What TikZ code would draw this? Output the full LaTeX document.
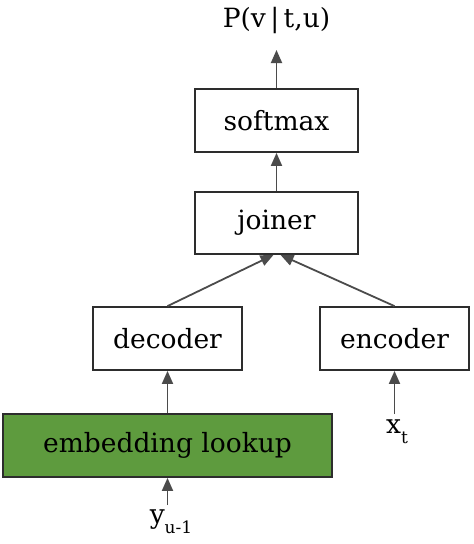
\documentclass[tikz,border=0pt]{standalone}
\usepackage{fontspec}
\setmainfont{DejaVu Serif}
\usetikzlibrary{arrows.meta}
\definecolor{embgreen}{RGB}{94,155,62}
\definecolor{arrgray}{RGB}{75,75,75}
\definecolor{boxline}{RGB}{45,45,45}
\tikzset{
  blk/.style={draw=boxline, line width=1.8pt, fill=white, minimum height=63pt, inner sep=0pt,
    font=\fontsize{26.5}{30}\selectfont},
  lbl/.style={inner sep=0pt, font=\fontsize{26.5}{30}\selectfont},
  arr/.style={draw=arrgray, line width=1.8pt, -{Triangle[length=13pt,width=11pt]}},
}
\newcommand{\mysub}[1]{\raisebox{-0.38em}{\fontsize{17}{17}\selectfont #1}}
\begin{document}
\begin{tikzpicture}[x=1pt,y=-1pt]
\useasboundingbox (0,0) rectangle (474,544);
\node[blk, minimum width=163pt] (softmax) at (276.5,120.5) {softmax};
\node[blk, minimum width=163pt, minimum height=62pt] (joiner) at (276.5,223) {joiner};
\node[blk, minimum width=149pt] (decoder) at (167.5,338.5) {decoder};
\node[blk, minimum width=149pt] (encoder) at (394.5,338.5) {encoder};
\node[blk, minimum width=329pt, fill=embgreen] (embed) at (167.5,445.5) {embedding lookup};
\node[lbl] (p) at (276.5,20) {P(v\,|\,t,u)};
\node[lbl] (xt) at (397,432) {x\mysub{t}};
\node[lbl] (y) at (171,522) {y\mysub{u-1}};
\coordinate (ptip) at (276.5,50);
\coordinate (xtop) at (394.5,414);
\coordinate (ytop) at (167.5,505);
\draw[arr] (softmax.north) -- (ptip);
\draw[arr] (joiner.north) -- (softmax.south);
\draw[arr] (decoder.north) -- ([xshift=-3pt]joiner.south);
\draw[arr] (encoder.north) -- ([xshift=4pt]joiner.south);
\draw[arr] (embed.north) -- (decoder.south);
\draw[arr] (xtop) -- (encoder.south);
\draw[arr] (ytop) -- (embed.south);
\end{tikzpicture}
\end{document}
